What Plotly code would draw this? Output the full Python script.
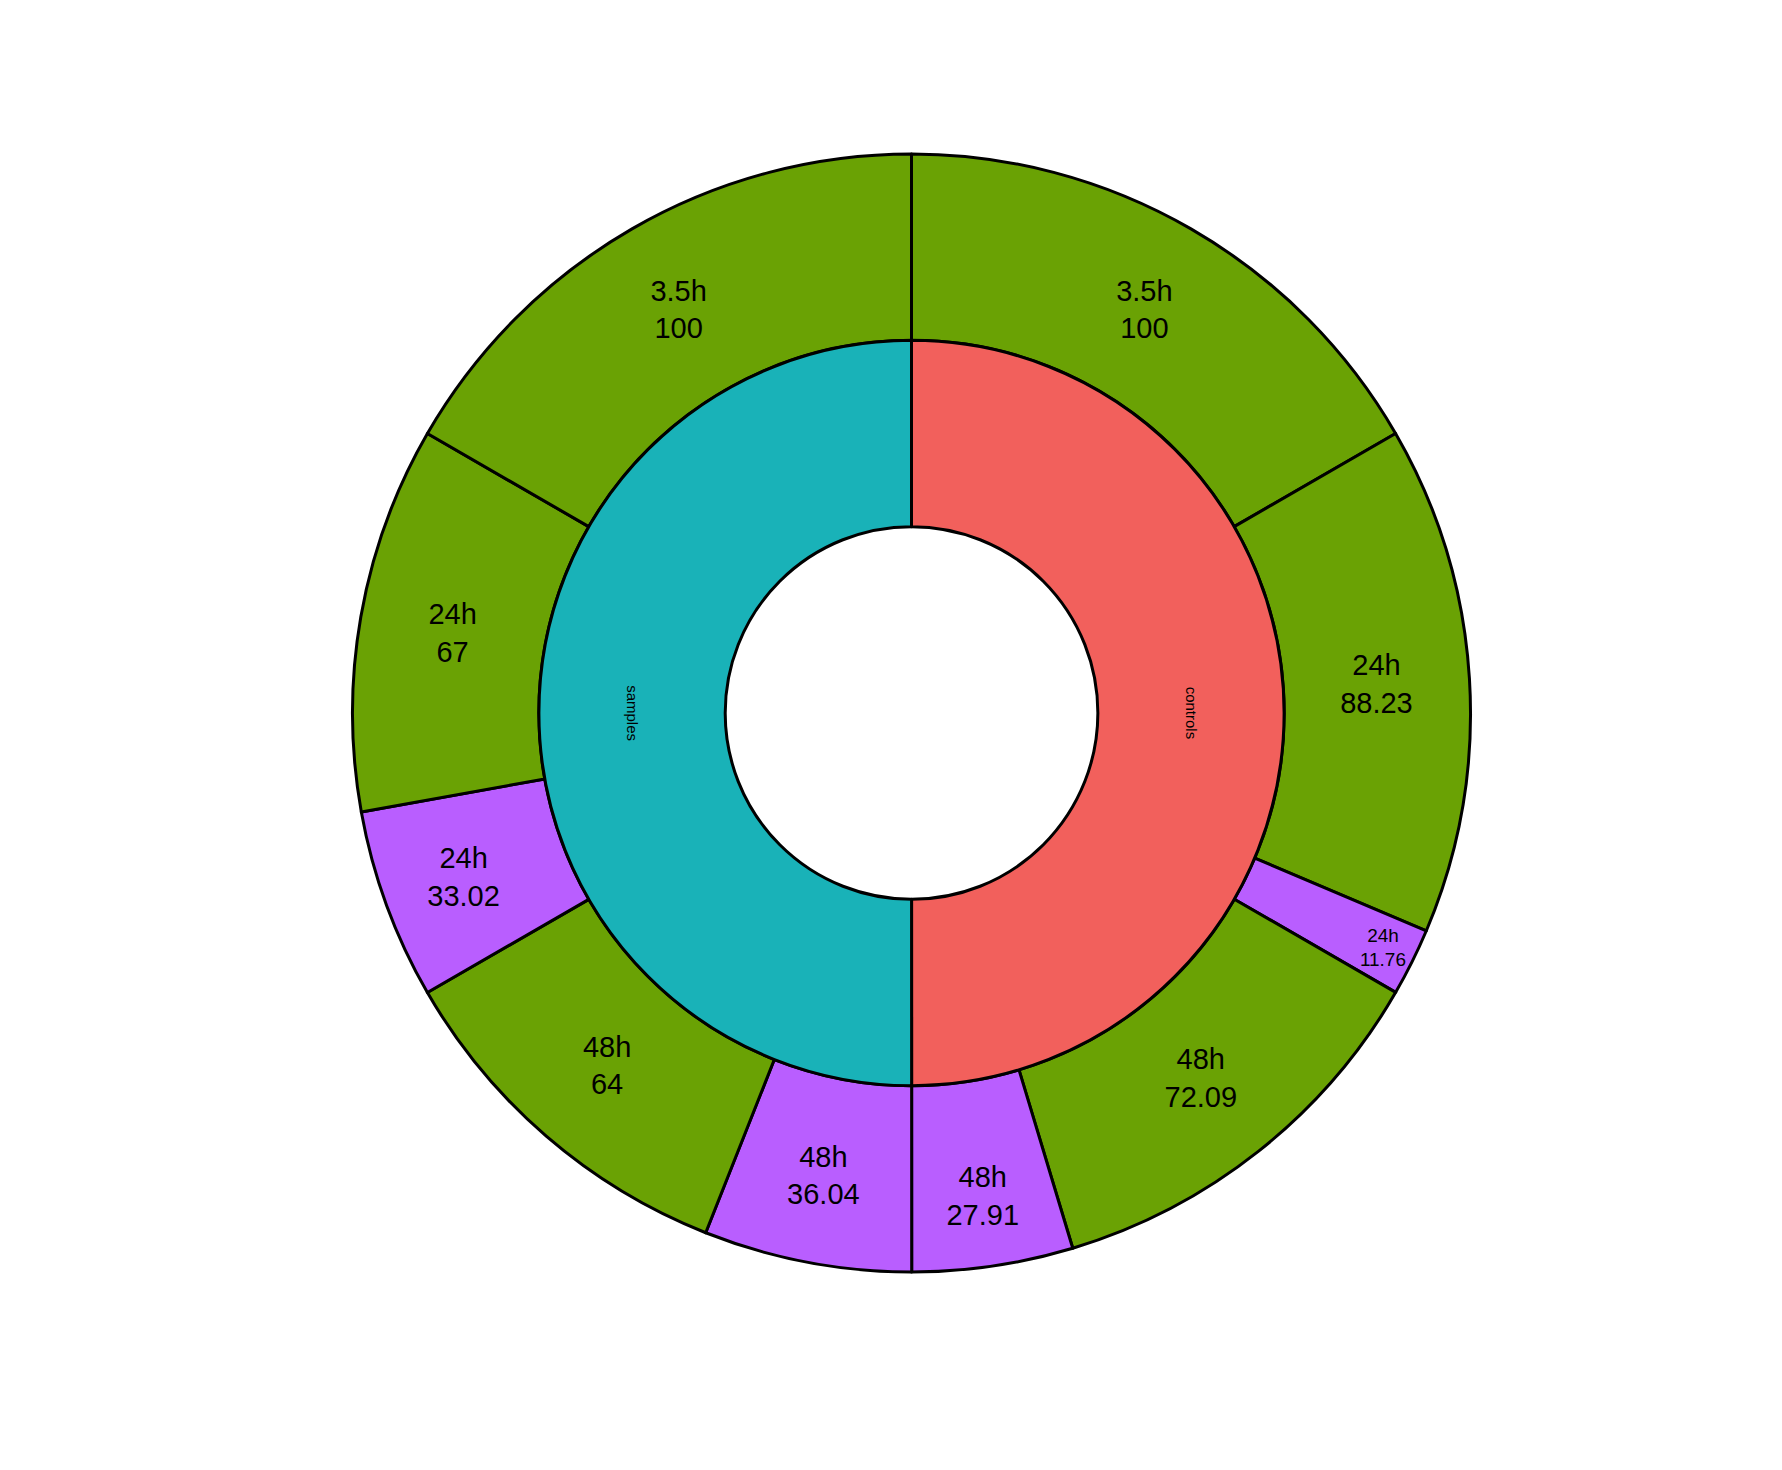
import plotly.graph_objects as go

# data
groups = ["controls", "samples"]
time_points = ["3.5h", "24h", "24h", "48h", "48h"]
status = ["green", "green", "purple", "green", "purple"]
controls_values = [100, 88.23, 11.76, 72.09, 27.91]
samples_values = [100, 67, 33.02, 64, 36.04]

group_colors = {"controls": "#F2605C", "samples": "#19B2B8"}
status_colors = {"green": "#6AA204", "purple": "#B95EFF"}

# outer ring goes clockwise from 12 o'clock: controls down the right side,
# then samples back up the left side
outer_labels, outer_values, outer_text, outer_colors = [], [], [], []
for g, vals, order in [("controls", controls_values, range(5)),
                       ("samples", samples_values, reversed(range(5)))]:
    for i in order:
        outer_labels.append(f"{g} {time_points[i]} {status[i]} {i}")
        outer_values.append(vals[i])
        outer_text.append(f"{time_points[i]}<br>{vals[i]:g}")
        outer_colors.append(status_colors[status[i]])

inner_values = [sum(controls_values), sum(samples_values)]
# a blank line nudges the rotated group labels towards the middle of the ring
inner_text = ["controls<br> ", " <br>samples"]

W, H = 1782, 1470
# centre (px from left / bottom of the figure) and outer radius;
# the page body adds an 8px offset, so pull the centre back by that
cx, cy, R = 903.5, 765, 559


def dom(r):
    return dict(x=[(cx - r) / W, (cx + r) / W], y=[(cy - r) / H, (cy + r) / H])


fig = go.Figure()

fig.add_trace(go.Pie(
    labels=outer_labels,
    values=outer_values,
    text=outer_text,
    textinfo="text",
    textposition="inside",
    insidetextorientation="horizontal",
    textfont=dict(size=29, color="black", family="Liberation Sans, Arial"),
    marker=dict(colors=outer_colors, line=dict(color="black", width=3)),
    hole=2 / 3,
    sort=False,
    direction="clockwise",
    rotation=0,
    domain=dom(R),
    showlegend=False,
))

fig.add_trace(go.Pie(
    labels=groups,
    values=inner_values,
    text=inner_text,
    textinfo="text",
    textposition="inside",
    insidetextorientation="tangential",
    textfont=dict(size=15, color="black", family="Liberation Sans, Arial"),
    marker=dict(colors=[group_colors[g] for g in groups],
                line=dict(color="black", width=3)),
    hole=0.5,
    sort=False,
    direction="clockwise",
    rotation=0,
    domain=dom(R * 2 / 3),
    showlegend=False,
))

fig.update_layout(
    width=W,
    height=H,
    margin=dict(l=0, r=0, t=0, b=0),
    paper_bgcolor="white",
    plot_bgcolor="white",
)

fig.write_html("out.html")
